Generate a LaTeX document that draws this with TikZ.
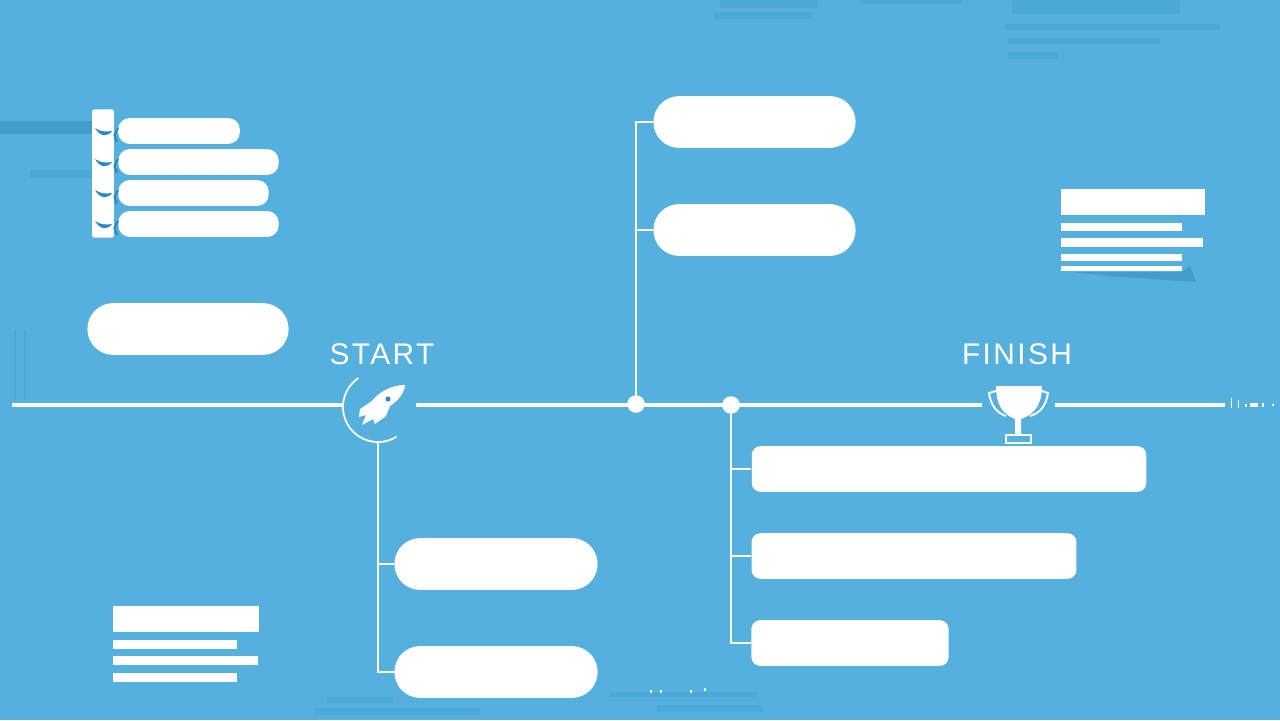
\documentclass[tikz,border=0pt]{standalone}
\usepackage{fontspec}
\setmainfont{Liberation Sans}
\usetikzlibrary{calc}
\definecolor{bgblue}{HTML}{55B0DE}
\definecolor{smudge}{HTML}{4BA9D6}
\definecolor{deepblue}{HTML}{429DCD}
\definecolor{tickblue}{HTML}{2A88C4}
\tikzstyle{pill}=[fill=white,minimum height=29.5pt,inner sep=0pt,rounded corners=14.7pt]
\tikzstyle{smallpill}=[fill=white,minimum height=14.7pt,inner sep=0pt,rounded corners=6.5pt]
\tikzstyle{bar}=[fill=white,minimum height=26pt,inner sep=0pt,rounded corners=5pt]
\tikzstyle{strip}=[fill=white,inner sep=0pt]
\tikzstyle{dot}=[circle,fill=white,minimum size=10pt,inner sep=0pt]
\tikzstyle{mainline} = [draw=white,line width=1.9pt]
\tikzstyle{branch} = [draw=white,line width=1.2pt]
\tikzstyle{caption} = [text=white,font=\fontsize{17}{20}\selectfont\addfontfeature{LetterSpace=8}]

\begin{document}
\begin{tikzpicture}[x=0.02cm,y=-0.02cm]
    \fill[bgblue] (0,0) rectangle (1280,720);
    \useasboundingbox (0,0) rectangle (1280,720);

    % faint bands
    \foreach \xa/\ya/\xb/\yb in {720/0/818/8, 714/12/812/19, 860/0/962/4, 1012/0/1180/14,
        1005/24/1220/30, 1008/38/1160/44, 1008/52/1058/59, 327/697/393/703, 315/708/480/715,
        610/692/757/697, 657/705/763/712, 30/170/92/178, 14/330/16/400, 24/330/26/400}
        \fill[smudge] (\xa,\ya) rectangle (\xb,\yb);
    \fill[deepblue] (0,121) rectangle (92,134);
    \fill[deepblue] (1070,272) -- (1182,272) -- (1190,266) -- (1196,282) -- (1110,276) -- cycle;

    % pills
    \foreach \pos/ \name/\wid in {{(754.5,122)/topa/203},{(754.5,230)/topb/203},{(188,329)/leftp/202},
        {(496,564)/lowa/204},{(496,672)/lowb/204}}
        \node[pill,minimum width=\wid*0.567pt] (\name) at \pos{};

    % bars
    \foreach \pos/ \name/\wid in {{(949,469)/bara/396},{(914,556)/barb/326},{(850,643)/barc/198}}
        \node[bar,minimum width=\wid*0.567pt] (\name) at \pos{};

    % checklist
    \node[strip,minimum width=12.5pt,minimum height=73pt,rounded corners=1pt] (spine) at (103,173.5){};
    \foreach \pos/ \name/\wid in {{(179,131)/cha/122},{(198.5,162)/chb/161},{(193.5,193)/chc/151},{(198.5,224)/chd/161}}
        \node[smallpill,minimum width=\wid*0.567pt] (\name) at \pos{};
    \foreach \yy in {128,159,190,221}{
        \fill[tickblue] (95,\yy) .. controls (101,\yy+4) and (106,\yy+4) .. (112,\yy+3)
            .. controls (108,\yy+9) and (100,\yy+9) .. cycle;
        \draw[tickblue,line width=1.2pt] (118,\yy) -- (114.5,\yy+7) -- (117,\yy+14);
    }

    % text blocks
    \foreach \xa/\ya/\xb/\yb in {1061/189/1205/215, 1061/223/1182/231, 1061/238/1203/247, 1061/254/1182/261, 1061/266/1182/271,
        113/606/259/632, 113/640/237/649, 113/656/258/665, 113/673/237/682}
        \fill[white] (\xa,\ya) rectangle (\xb,\yb);

    % main line
    \coordinate (linea) at (12,405);
    \coordinate (lineb) at (342,405);
    \coordinate (linec) at (416,405);
    \coordinate (lined) at (982,405);
    \coordinate (linee) at (1055,405);
    \coordinate (linef) at (1225,405);
    \coordinate (startfoot) at (378,441);
    \foreach \source/ \dest in {linea/lineb, linec/lined, linee/linef}
        \path[mainline] (\source) -- (\dest);

    \node[dot] (dota) at (636,404){};
    \node[dot] (dotb) at (731,405){};

    % branches
    \foreach \source/ \dest in {dota/topa, dota/topb, dotb/bara, dotb/barb, dotb/barc, startfoot/lowa, startfoot/lowb}
        \path[branch] (\source) |- (\dest);

    % start
    \node[caption] (start) at (382,354){START};
    \draw[white,line width=1pt] (358.4,378) arc[start angle=124,end angle=302,radius=0.7cm];
    \fill[white] (405,385) .. controls (392,385) and (380,391) .. (372,401)
        -- (360,409) -- (359,417) -- (366,415) -- (362,425) -- (373,419) -- (375,424) -- (386,416)
        -- (390,406) .. controls (399,400) and (404,393) .. cycle;
    \fill[tickblue] (388,399) circle[radius=2.5];

    % finish
    \node[caption] (finish) at (1017,354){FINISH};
    \fill[white] (996,386) -- (1042,386) .. controls (1042,404) and (1035,414) .. (1021,419)
        -- (1021,434) -- (1015,434) -- (1015,419) .. controls (1002,414) and (996,404) .. cycle;
    \draw[white,line width=1.1pt] (996,391) -- (989,393) .. controls (991,406) and (997,413) .. (1006,416);
    \draw[white,line width=1.1pt] (1042,391) -- (1048,393) .. controls (1046,406) and (1040,413) .. (1030,416);
    \draw[white,line width=1.2pt] (1006,435) rectangle (1031,443);

    % specks
    \foreach \xa/\ya/\xb/\yb in {1231/398/1232/408, 1238/400/1239/408, 1245/404/1247/407, 1250/403/1258/407, 1262/403/1264/407, 1272/404/1274/406,
        650/690/652/693, 662/690/660/693, 690/690/692/693, 706/688/704/691}
        \fill[white] (\xa,\ya) rectangle (\xb,\yb);
\end{tikzpicture}
\end{document}
